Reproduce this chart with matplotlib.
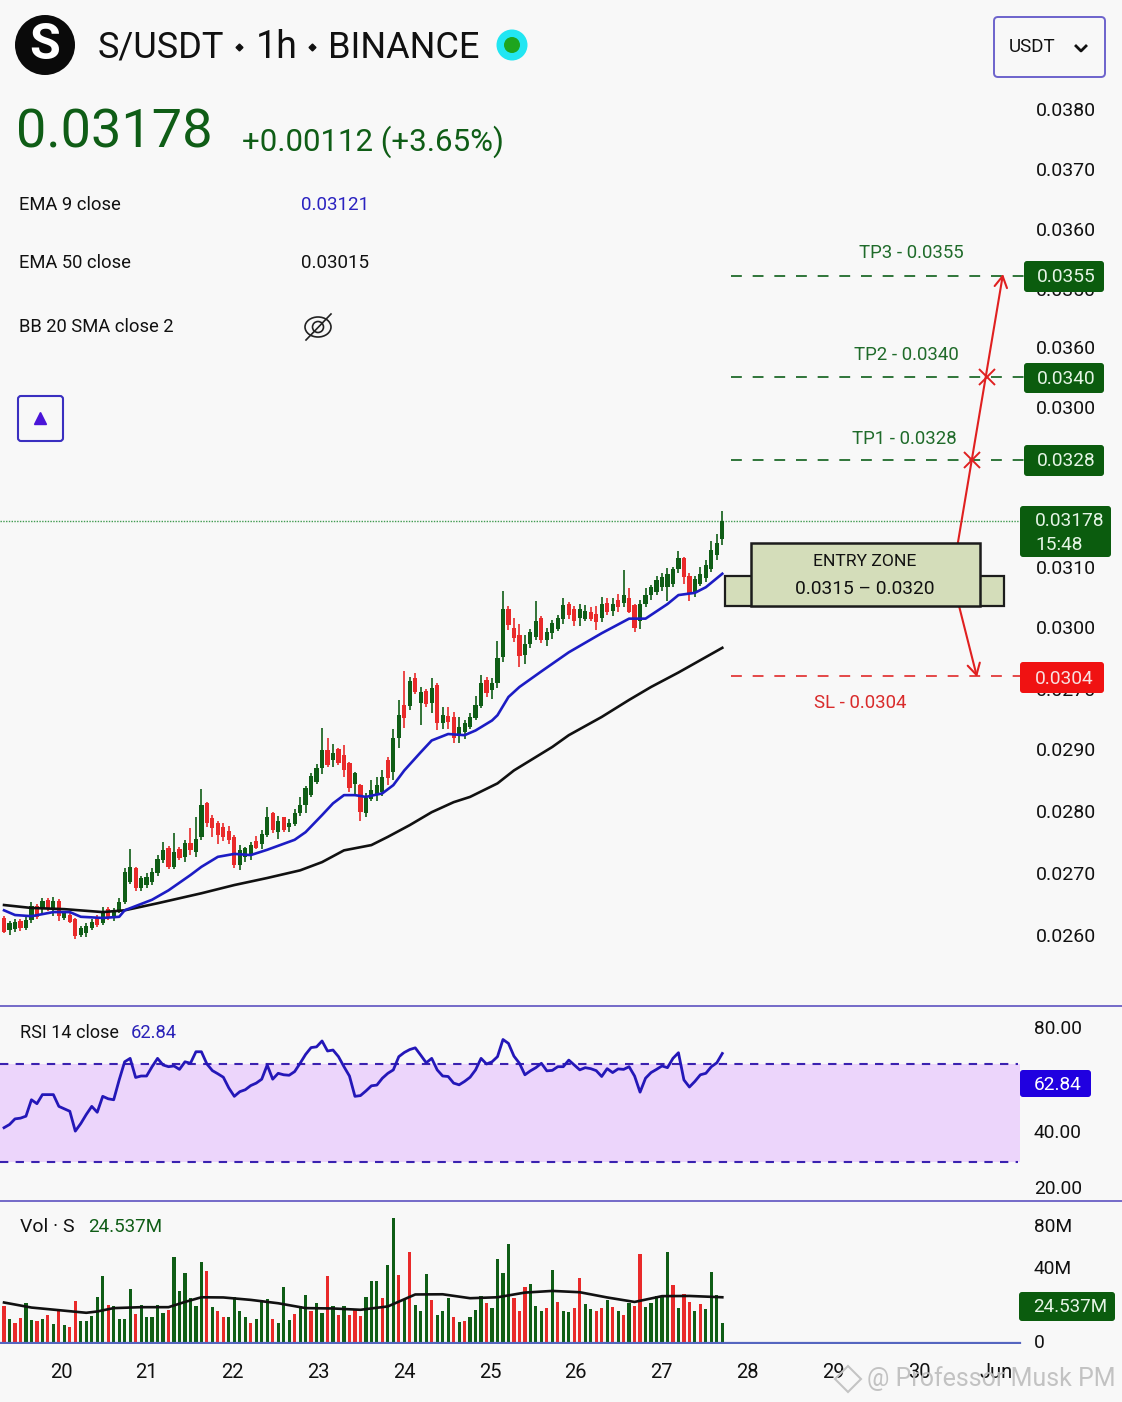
import numpy as np
import matplotlib
matplotlib.use("Agg")
import matplotlib.pyplot as plt
from matplotlib.patches import Circle, Ellipse, FancyBboxPatch, Rectangle

opens = [2629, 2608, 2610, 2624, 2612, 2626, 2649, 2644, 2660, 2643,
         2658, 2629, 2634, 2627, 2600, 2603, 2612, 2631, 2620, 2644,
         2631, 2643, 2656, 2690, 2714, 2680, 2685, 2690, 2705, 2728,
         2748, 2716, 2746, 2733, 2756, 2741, 2767, 2824, 2799, 2790,
         2784, 2777, 2767, 2719, 2733, 2736, 2760, 2755, 2770, 2807,
         2775, 2801, 2784, 2789, 2807, 2821, 2838, 2860, 2884, 2915,
         2898, 2916, 2906, 2892, 2857, 2855, 2807, 2831, 2838, 2843,
         2898, 2877, 2935, 2991, 2989, 3037, 2994, 3015, 2994, 3025,
         2960, 2972, 2971, 2940, 2945, 2954, 2969, 2989, 3034, 3017,
         3028, 3057, 3100, 3083, 3076, 3059, 3068, 3075, 3092, 3072,
         3078, 3082, 3091, 3104, 3100, 3092, 3091, 3097, 3095, 3092,
         3105, 3098, 3108, 3105, 3109, 3103, 3089, 3104, 3112, 3115,
         3119, 3119, 3122, 3135, 3145, 3129, 3114, 3122, 3127, 3135,
         3148, 3162]
highs = [2632, 2624, 2627, 2627, 2631, 2656, 2653, 2663, 2663, 2665,
         2661, 2641, 2637, 2629, 2615, 2620, 2627, 2634, 2648, 2648,
         2646, 2663, 2714, 2746, 2716, 2700, 2705, 2714, 2736, 2758,
         2751, 2773, 2750, 2762, 2782, 2801, 2848, 2826, 2804, 2794,
         2790, 2785, 2770, 2753, 2750, 2758, 2768, 2779, 2818, 2809,
         2802, 2801, 2797, 2814, 2835, 2853, 2875, 2891, 2952, 2935,
         2925, 2918, 2923, 2894, 2877, 2857, 2841, 2864, 2869, 2881,
         2903, 2950, 3000, 3044, 3039, 3043, 3022, 3018, 3037, 3028,
         2988, 2988, 2979, 2971, 2966, 2977, 3006, 3041, 3039, 3037,
         3071, 3116, 3102, 3092, 3086, 3076, 3082, 3107, 3093, 3083,
         3090, 3094, 3109, 3106, 3102, 3104, 3103, 3101, 3102, 3110,
         3109, 3109, 3113, 3134, 3118, 3104, 3108, 3118, 3121, 3129,
         3132, 3136, 3137, 3151, 3146, 3132, 3129, 3137, 3143, 3160,
         3166, 3194]
lows = [2603, 2600, 2605, 2607, 2609, 2620, 2627, 2634, 2641, 2632,
        2624, 2626, 2620, 2593, 2597, 2597, 2609, 2614, 2617, 2626,
        2624, 2637, 2653, 2687, 2675, 2675, 2680, 2685, 2700, 2722,
        2712, 2712, 2728, 2724, 2736, 2733, 2762, 2784, 2767, 2755,
        2760, 2755, 2714, 2711, 2724, 2728, 2746, 2746, 2767, 2773,
        2763, 2775, 2775, 2785, 2802, 2807, 2835, 2857, 2874, 2886,
        2886, 2889, 2869, 2843, 2840, 2794, 2801, 2828, 2828, 2836,
        2855, 2864, 2918, 2952, 2983, 3010, 2957, 2988, 2977, 2949,
        2950, 2950, 2926, 2926, 2933, 2950, 2966, 2986, 3005, 3001,
        3020, 3052, 3081, 3070, 3048, 3051, 3065, 3072, 3069, 3067,
        3073, 3080, 3086, 3091, 3084, 3084, 3089, 3089, 3081, 3088,
        3094, 3093, 3097, 3101, 3096, 3079, 3082, 3101, 3108, 3112,
        3116, 3107, 3119, 3132, 3122, 3107, 3110, 3120, 3124, 3133,
        3143, 3157]
closes = [2605, 2620, 2622, 2612, 2626, 2649, 2631, 2658, 2646, 2658,
          2632, 2637, 2622, 2598, 2612, 2615, 2622, 2617, 2641, 2629,
          2641, 2656, 2707, 2716, 2680, 2697, 2699, 2707, 2729, 2745,
          2716, 2741, 2731, 2756, 2745, 2763, 2821, 2790, 2782, 2770,
          2767, 2762, 2719, 2745, 2748, 2753, 2748, 2772, 2801, 2779,
          2794, 2779, 2790, 2807, 2821, 2850, 2870, 2884, 2915, 2889,
          2909, 2892, 2881, 2850, 2875, 2809, 2833, 2847, 2855, 2869,
          2867, 2935, 2974, 2969, 3032, 3013, 3013, 2993, 3020, 2960,
          2974, 2962, 2935, 2954, 2960, 2971, 2991, 3028, 3011, 3028,
          3056, 3100, 3085, 3074, 3058, 3068, 3079, 3089, 3072, 3079,
          3087, 3092, 3103, 3094, 3089, 3100, 3098, 3091, 3088, 3104,
          3097, 3104, 3101, 3112, 3097, 3083, 3104, 3112, 3119, 3125,
          3128, 3131, 3135, 3145, 3128, 3113, 3126, 3131, 3139, 3152,
          3158, 3178]

ema9_idx = [0, 2, 5, 9, 12, 14, 18, 21, 22, 27, 30, 34, 36, 39, 42, 45, 48, 53, 55, 58, 60, 62, 64, 66,
            69, 71, 73, 76, 78, 81, 84, 86, 89, 90, 92, 94, 98, 103, 109, 114, 117, 121, 123, 126, 128, 131]
ema9 = [2642, 2634, 2632, 2639, 2639, 2631, 2629, 2631, 2642, 2660, 2676, 2702, 2716, 2733, 2738, 2736,
        2745, 2762, 2775, 2804, 2824, 2838, 2838, 2835, 2841, 2855, 2880, 2911, 2931, 2942, 2940, 2948,
        2965, 2974, 3005, 3022, 3044, 3061, 3078, 3091, 3091, 3104, 3112, 3114, 3119, 3131]
ema50_idx = [0, 5, 11, 18, 22, 28, 36, 42, 48, 54, 58, 62, 67, 70, 74, 78, 82, 85, 90, 93, 100, 103,
             109, 114, 118, 123, 131]
ema50 = [2651, 2646, 2644, 2639, 2642, 2654, 2671, 2685, 2697, 2710, 2724, 2744, 2753, 2767, 2787, 2809,
         2826, 2835, 2858, 2880, 2920, 2940, 2971, 3000, 3022, 3043, 3065]

rsi = [44.0, 45.3, 47.6, 47.9, 48.7, 55.4, 53.8, 57.5, 57.5, 57.5, 52.7, 51.7, 50.7, 42.6, 45.7, 49.4,
       52.7, 50.3, 56.8, 55.8, 55.4, 63.5, 70.9, 72.3, 64.5, 65.1, 65.1, 68.9, 72.3, 69.6, 68.9, 69.2,
       67.8, 70.9, 70.3, 75.0, 75.0, 70.0, 67.3, 66.0, 64.6, 60.2, 56.8, 58.7, 59.5, 61.2, 62.2, 63.8,
       69.6, 63.8, 66.2, 65.6, 65.4, 66.9, 70.3, 73.9, 76.7, 77.0, 79.4, 75.3, 75.7, 73.0, 68.9, 65.1,
       56.8, 57.1, 59.0, 61.1, 61.4, 64.2, 66.2, 67.6, 73.0, 74.7, 75.9, 76.6, 73.6, 70.5, 72.3, 67.6,
       65.1, 64.9, 62.2, 61.5, 62.9, 64.6, 67.6, 72.3, 70.0, 70.9, 73.0, 80.0, 78.4, 73.2, 70.3, 65.6,
       67.2, 68.5, 70.3, 67.2, 67.4, 68.9, 68.9, 71.6, 69.6, 67.6, 68.5, 68.1, 67.3, 64.9, 68.1, 66.5,
       68.0, 67.8, 68.9, 65.1, 58.5, 64.2, 66.5, 67.8, 69.2, 68.5, 72.3, 74.6, 63.5, 60.6, 62.9, 65.6,
       66.2, 68.9, 70.5, 74.3]

# volume in millions
volume = [19.6, 12.8, 11.0, 13.3, 21.3, 12.4, 11.6, 12.8, 14.8, 10.3, 16.9, 9.8, 8.5, 22.6, 11.6, 11.6,
          14.6, 24.4, 35.9, 20.4, 19.6, 13.0, 13.0, 28.8, 15.6, 20.4, 14.2, 13.9, 20.4, 16.0, 17.8, 46.2,
          27.9, 37.3, 24.0, 19.6, 43.2, 38.8, 19.2, 16.9, 14.2, 13.7, 24.5, 17.4, 13.7, 10.7, 12.8, 23.1,
          23.5, 12.8, 11.0, 30.2, 12.4, 15.5, 19.6, 25.8, 16.9, 21.7, 16.0, 35.9, 19.9, 15.1, 19.6, 15.1,
          18.3, 14.6, 24.9, 33.4, 33.4, 24.0, 41.8, 67.0, 36.4, 23.1, 48.9, 20.4, 16.9, 37.0, 22.8, 15.1,
          17.2, 24.0, 14.2, 11.2, 11.9, 13.9, 17.8, 25.2, 21.7, 19.0, 44.8, 37.3, 52.8, 24.0, 16.9, 30.2,
          31.6, 19.9, 17.4, 18.7, 39.1, 22.2, 17.4, 16.5, 18.7, 35.0, 21.0, 18.1, 16.9, 19.0, 22.8, 19.2,
          17.2, 15.1, 21.3, 19.6, 47.5, 19.2, 21.7, 25.2, 25.4, 48.9, 31.1, 18.7, 26.3, 22.2, 17.2, 21.0,
          18.1, 38.2, 25.8, 10.7]
volume_side = ("RGRRGGRGRGRGRRGGGGGRGGGGRGGGGGRGGGGGGRGRRGGGGR"
               "GGGRGGGRGGRGGRGRGRRRGGGRGGRGRGGGRGGGRGRGGGRG"
               "GGGRRRGGGRGRGGRRGGRRGRGRGRRGGGGGRGRRGRGGGG")
vol_ma_idx = [0, 5, 10, 15, 17, 20, 25, 30, 33, 36, 40, 45, 50, 55, 60, 65, 70, 75, 80, 85, 90, 95,
              100, 105, 110, 115, 120, 125, 131]
vol_ma = [21.7, 19.0, 17.6, 16.2, 16.9, 18.7, 19.2, 19.2, 22.0, 24.5, 24.4, 23.1, 21.3, 18.7, 18.5, 17.8,
          19.6, 26.0, 26.1, 24.0, 24.5, 27.0, 27.9, 27.2, 24.4, 22.0, 25.1, 25.2, 24.5]

# levels drawn on the chart, and the way the screenshot's price axis runs through them
levels_tp = [3280, 3400, 3550]
level_sl = 3040
last_price = 3178
axis_prices = [2481, 2600, 3039, 3178, 3280, 3400, 3550, 3964]
axis_rows = [1005, 935, 677, 521, 460, 377, 276, 0]

price_labels = ["0.0380", "0.0370", "0.0360", "0.0350", "0.0360", "0.0300", "0.0310", "0.0300",
                "0.0270", "0.0290", "0.0280", "0.0270", "0.0260"]
price_label_rows = [109, 169, 229, 289, 348, 408, 568, 627, 689, 750, 811, 873, 935]
day_ticks = [20, 21, 22, 23, 24, 25, 26, 27, 28, 29, 30, 30.9]
day_labels = ["20", "21", "22", "23", "24", "25", "26", "27", "28", "29", "30", "Jun"]

W, H = 1122, 1402
BG = "#f8f8f8"
GREEN = "#0f5d16"
RED = "#e92a2a"
BLUE = "#2417b8"
PURPLE = "#6a5fc4"
BADGE_GREEN = "#0b5c0e"

plt.rcParams["font.family"] = ["Roboto", "DejaVu Sans"]
fig = plt.figure(figsize=(W / 100, H / 100), dpi=100, facecolor=BG)


def panel(top, bottom):
    a = fig.add_axes([0, 1 - bottom / H, 1, (bottom - top) / H])
    a.set_facecolor("none")
    for s in a.spines.values():
        s.set_visible(False)
    a.set_xlim(20 - 61 / 85.8, 20 + (W - 61) / 85.8)
    a.tick_params(length=0)
    return a


def to_height(p):
    return np.interp(p, np.array(axis_prices) / 1e5, 1005 - np.array(axis_rows))


def from_height(v):
    return np.interp(v, 1005 - np.array(axis_rows), np.array(axis_prices) / 1e5)


x = 19.336 + np.arange(len(closes)) * 5.483 / 85.8
o, h, l, c = [np.array(v) / 1e5 for v in (opens, highs, lows, closes)]

# main chart
ax = panel(0, 1005)
ax.set_yscale("function", functions=(to_height, from_height))
ax.set_ylim(axis_prices[0] / 1e5, axis_prices[-1] / 1e5)
ax.set_xticks([])
ax.set_yticks([])
ax.minorticks_off()
col = [GREEN if b >= a else RED for a, b in zip(o, c)]
ax.vlines(x, l, h, colors=col, lw=1.2, zorder=3)
ax.bar(x, np.abs(c - o), bottom=np.minimum(o, c), width=4.2 / 85.8, color=col, zorder=3)
ax.plot(x[ema50_idx], np.array(ema50) / 1e5, color="#111111", lw=1.9, zorder=4)
ax.plot(x[ema9_idx], np.array(ema9) / 1e5, color="#1c1cc4", lw=1.9, zorder=4)
yt = ax.get_yaxis_transform()
ax.plot([0, 1020 / W], [last_price / 1e5] * 2, transform=yt, color="#3f9a4f", lw=1, ls=(0, (1, 1)))
for p in levels_tp:
    ax.plot([731 / W, 1024 / W], [p / 1e5] * 2, transform=yt, color="#1f6b2a", lw=1.3, ls=(0, (6, 6)))
ax.plot([731 / W, 1024 / W], [level_sl / 1e5] * 2, transform=yt, color="#e23a3a", lw=1.3, ls=(0, (6, 6)))

# RSI panel
rx = panel(1006, 1200)
rx.set_ylim(30 - 38 / 2.45, 70 + 58 / 2.45)
rx.set_xticks([])
rx.set_yticks([])
rx.axhspan(30, 70, xmax=1020 / W, color="#ecd5fb", lw=0)
rx.plot([0, 1018 / W], [70, 70], transform=rx.get_yaxis_transform(), color="#3a22b0", lw=1.5, ls=(0, (4, 3.5)))
rx.plot([0, 1018 / W], [30, 30], transform=rx.get_yaxis_transform(), color="#3a22b0", lw=1.5, ls=(0, (4, 3.5)))
rx.plot(x, rsi, color=BLUE, lw=2)

# volume panel
vx = panel(1201, 1344)
vx.set_ylim(-0.5, 142.5 / 1.875)
vx.bar(x, volume, width=3.2 / 85.8, color=[GREEN if s == "G" else RED for s in volume_side])
vx.plot(x[vol_ma_idx], vol_ma, color="#111111", lw=1.9)
vx.plot([0, 1020 / W], [0, 0], transform=vx.get_yaxis_transform(), color="#5566c0", lw=1.6)
vx.set_yticks([])
vx.set_xticks(day_ticks)
vx.set_xticklabels(day_labels, fontsize=14.5, color="#111111")
vx.tick_params(axis="x", pad=14)

# overlay in picture pixels for header, badges and annotations
ov = fig.add_axes([0, 0, 1, 1])
ov.set_xlim(0, W)
ov.set_ylim(H, 0)
ov.axis("off")
ov.set_facecolor("none")


def text(px, py, s, size, color="#111111", ha="left", **kw):
    return ov.text(px, py + 1.5, s, fontsize=size, color=color, ha=ha, va="center", **kw)


def badge(x0, y0, x1, y1, color):
    ov.add_patch(FancyBboxPatch((x0 + 3, y0 + 3), x1 - x0 - 6, y1 - y0 - 6, boxstyle="round,pad=3,rounding_size=3",
                                fc=color, ec="none", zorder=5))


ov.hlines([1005.5, 1200.5], 0, W, color=PURPLE, lw=1.3)

# header
ov.add_patch(Circle((45, 45), 30, fc="#0a0a0a", ec="none"))
text(45, 44, "S", 36, "white", ha="center", fontweight="bold")
text(98, 46, "S/USDT", 26)
ov.plot([239, 312], [47, 47], ls="none", marker="D", ms=3.5, color="#111111")
text(256, 46, "1h", 27)
text(328, 46, "BINANCE", 26)
ov.add_patch(Circle((512, 45), 15.5, fc="#22e6f2", ec="none"))
ov.add_patch(Circle((512, 45), 8, fc="#1ea51e", ec="none"))
ov.add_patch(FancyBboxPatch((997, 20), 105, 54, boxstyle="round,pad=3,rounding_size=4", fc="none", ec="#6d63cc", lw=1.4))
text(1009, 45, "USDT", 13.5)
ov.plot([1076, 1081, 1086], [46, 51, 46], color="#111111", lw=2)

text(16, 131, "0.03178", 39, GREEN)
text(242, 140, "+0.00112 (+3.65%)", 22.5, GREEN)
text(19, 204, "EMA 9 close", 13.2)
text(301, 204, "0.03121", 13.5, "#2a22c0")
text(19, 262, "EMA 50 close", 13.2)
text(301, 262, "0.03015", 13.5)
text(19, 326, "BB 20 SMA close 2", 13.2)
ov.add_patch(Ellipse((318, 327), 26, 20, fc="none", ec="#222222", lw=1.2))
ov.add_patch(Circle((318, 327), 5.5, fc="none", ec="#222222", lw=1.2))
ov.plot([306, 331], [340, 314], color="#222222", lw=1.2)
ov.add_patch(FancyBboxPatch((20, 398), 41, 41, boxstyle="round,pad=2,rounding_size=3", fc="none", ec="#3a2fc0", lw=1.5))
ov.plot([40], [418], marker="^", ms=8, color="#4a14d8", ls="none")

# price scale
for s, r in zip(price_labels, price_label_rows):
    text(1036, r, s, 14)

# trade annotations
for s, px, py in [("TP3 - 0.0355", 911, 252), ("TP2 - 0.0340", 906, 354), ("TP1 - 0.0328", 904, 438)]:
    text(px, py, s, 13.4, "#1f6b2a", ha="center")
text(860, 701, "SL - 0.0304", 13.4, "#d92b2b", ha="center")
ov.annotate("", xy=(1003, 274), xytext=(955, 560), zorder=2,
            arrowprops=dict(arrowstyle="->,head_length=0.8,head_width=0.45", color="#e02020", lw=1.5, shrinkA=0, shrinkB=0))
ov.annotate("", xy=(977, 677), xytext=(955, 590), zorder=2,
            arrowprops=dict(arrowstyle="->,head_length=0.8,head_width=0.45", color="#e02020", lw=1.5, shrinkA=0, shrinkB=0))
ov.plot([972, 987], [460, 377], ls="none", marker="x", ms=12, mew=1.4, color="#e02020")
ov.add_patch(Rectangle((725.5, 575.5), 279, 30.5, fc="#d4ddba", ec="#1c1c1c", lw=1.6, zorder=3))
ov.add_patch(Rectangle((751.5, 542.5), 229, 63.5, fc="#d4ddba", ec="#1c1c1c", lw=1.8, zorder=4))
text(865, 560, "ENTRY ZONE", 12.6, ha="center", zorder=5)
text(865, 588, "0.0315 \u2013 0.0320", 13.8, ha="center", zorder=5)

badge(1024, 261, 1104, 292, BADGE_GREEN)
text(1066, 276, "0.0355", 13.8, "#e6f5e6", ha="center", zorder=6)
badge(1024, 363, 1104, 393, BADGE_GREEN)
text(1066, 378, "0.0340", 13.8, "#e6f5e6", ha="center", zorder=6)
badge(1024, 445, 1104, 476, BADGE_GREEN)
text(1066, 460, "0.0328", 13.8, "#e6f5e6", ha="center", zorder=6)
badge(1020, 506, 1111, 557, BADGE_GREEN)
text(1035, 520, "0.03178", 13.8, "#e6f5e6", zorder=6)
text(1035, 543, "15:48", 13.8, "#e6f5e6", zorder=6)
badge(1020, 662, 1104, 693, "#f01212")
text(1064, 677, "0.0304", 13.8, "#f8e0e0", ha="center", zorder=6)

# lower panel labels
text(20, 1032, "RSI 14 close", 13)
text(131, 1032, "62.84", 13.2, "#2a22b8")
text(1034, 1027, "80.00", 13.8)
text(1034, 1131, "40.00", 13.8)
text(1034, 1187, "20.00", 13.8)
badge(1020, 1070, 1091, 1097, "#2000e0")
text(1058, 1083, "62.84", 13.8, "white", ha="center", zorder=6)
text(20, 1226, "Vol \u00b7 S", 14)
text(88, 1226, "24.537M", 13.5, GREEN)
text(1034, 1226, "80M", 13.8)
text(1034, 1267, "40M", 13.8)
text(1034, 1342, "0", 13.8)
badge(1019, 1292, 1115, 1321, BADGE_GREEN)
text(1070, 1306, "24.537M", 13.5, "#e6f5e6", ha="center", zorder=6)

# watermark
ov.plot([848], [1379], marker="D", ms=13, mfc="none", mec="#c4c4c4", mew=1.5, zorder=7)
text(867, 1377, "@ Professor Musk PM", 18, "#bdbdbd", zorder=7, alpha=0.9)

fig.savefig("out.png", dpi=100, facecolor=BG)
